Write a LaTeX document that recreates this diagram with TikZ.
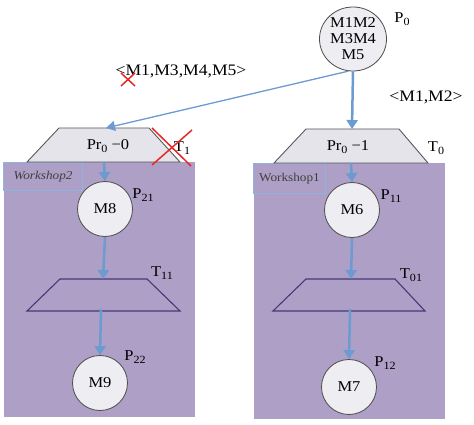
\documentclass[tikz,border=0pt]{standalone}
\usepackage{fontspec}
\setmainfont[FakeStretch=1.1]{Liberation Serif}
\usetikzlibrary{arrows.meta,shapes.geometric}
\definecolor{panel}{RGB}{173,159,198}
\definecolor{nodefill}{RGB}{238,238,242}
\definecolor{trapfill}{RGB}{228,228,234}
\definecolor{flow}{RGB}{108,155,210}
\definecolor{trapline}{RGB}{70,56,120}
\definecolor{wsline}{RGB}{140,180,225}
\definecolor{crossred}{RGB}{230,40,35}
\newcommand\mysub[1]{\raisebox{-0.45ex}{\fontsize{11}{11}\selectfont #1}}
\begin{document}
\begin{tikzpicture}[x=1pt,y=-1pt,
  place/.style={circle,draw=black!70,fill=nodefill,line width=0.8pt,minimum size=55pt,inner sep=0pt,font=\fontsize{15}{16}\selectfont},
  bigplace/.style={ellipse,draw=black!70,fill=nodefill,line width=0.8pt,minimum width=67pt,minimum height=64pt,inner sep=0pt,align=center,font=\fontsize{15}{16}\selectfont},
  lbl/.style={inner sep=0pt,font=\fontsize{15}{16}\selectfont},
  toptrap/.style={fill=trapfill,draw=black!65,line width=0.9pt},
  lowtrap/.style={draw=trapline,line width=1.1pt},
  wsbox/.style={draw=wsline,line width=1pt,inner sep=0pt,anchor=north west,minimum width=79pt,minimum height=28pt,text=black!75,font=\fontsize{12}{13}\selectfont},
  flowarrow/.style={draw=flow,line width=2.5pt,-{Triangle[width=11pt,length=9pt]}},
  thinarrow/.style={draw=flow,line width=1.3pt,-{Triangle[width=10pt,length=9pt]}},
  cross/.style={draw=crossred,line width=1.5pt}]
\useasboundingbox (0,0) rectangle (474,425);
% panels
\fill[panel] (4,162) rectangle (195,417);
\fill[panel] (254,163) rectangle (445,419);
\node[wsbox] (ws2) at (3,162) {\itshape Workshop2};
\node[wsbox,minimum width=72pt,minimum height=30pt] (ws1) at (253,163) {Workshop1};
% top trapezoids
\filldraw[toptrap] (27,162) -- (59,128) -- (149,128) -- (180,162) -- cycle;
\filldraw[toptrap] (274,163) -- (306,129) -- (399,129) -- (428,163) -- cycle;
\coordinate (t1top) at (106,128);
\coordinate (t1bot) at (104,162);
\coordinate (t0top) at (352,129);
\coordinate (t0bot) at (351,163);
\node[lbl] (pr0) at (108,146) {Pr\mysub{0} −0};
\node[lbl] (pr1) at (348,147) {Pr\mysub{0} −1};
\node[lbl] (lt1) at (182,148) {T\mysub{1}};
\node[lbl] (lt0) at (436,148) {T\mysub{0}};
% lower trapezoids
\draw[lowtrap] (27,311) -- (60,279) -- (147,279) -- (180,311) -- cycle;
\draw[lowtrap] (273,311) -- (306,279) -- (395,279) -- (425,311) -- cycle;
\coordinate (t11top) at (103,279);
\coordinate (t11bot) at (101,309);
\coordinate (t01top) at (351,279);
\coordinate (t01bot) at (350,309);
\node[lbl] (lt11) at (162,273) {T\mysub{11}};
\node[lbl] (lt01) at (411,275) {T\mysub{01}};
% places
\node[bigplace] (p0) at (353,39) {M1M2\\M3M4\\M5};
\node[place] (m8) at (105,209) {M8};
\node[place] (m6) at (352,210) {M6};
\node[place] (m9) at (100,383) {M9};
\node[place] (m7) at (349,387) {M7};
\node[lbl] (lp0) at (402,19) {P\mysub{0}};
\node[lbl] (lp21) at (143,195) {P\mysub{21}};
\node[lbl] (lp11) at (391,196) {P\mysub{11}};
\node[lbl] (lp22) at (135,357) {P\mysub{22}};
\node[lbl] (lp12) at (385,363) {P\mysub{12}};
% token labels
\node[lbl,font=\fontsize{16}{17}\selectfont] (tok1) at (181,71) {<M1,M3,M4,M5>};
\node[lbl,font=\fontsize{16}{17}\selectfont] (tok2) at (426,97) {<M1,M2>};
% arrows
\draw[thinarrow] (p0.262) -- (t1top);
\draw[flowarrow] (p0.south) -- (t0top);
\draw[flowarrow] (t1bot) -- (m8.north);
\draw[flowarrow] (t0bot) -- (m6.north);
\draw[flowarrow] (m8.south) -- (t11top);
\draw[flowarrow] (m6.south) -- (t01top);
\draw[flowarrow] (t11bot) -- (m9.north);
\draw[flowarrow] (t01bot) -- (m7.north);
% red crosses
\draw[cross] (152,128) -- (191,166);
\draw[cross] (152,165) -- (192,130);
\draw[cross] (121,73) -- (135,86);
\draw[cross] (121,86) -- (135,73);
\end{tikzpicture}
\end{document}
